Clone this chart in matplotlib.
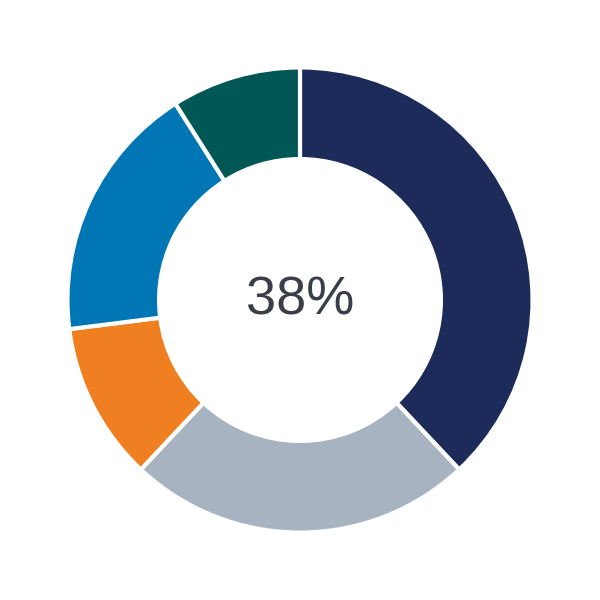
import matplotlib.pyplot as plt

# share of each slice, clockwise from 12 o'clock
labels = ["Navy", "Gray", "Orange", "Blue", "Teal"]
values = [38, 24, 11, 18, 9]
colors = ["#1c2b5a", "#a8b3c2", "#f07f22", "#0176b5", "#005753"]
center_label = "38%"

fig = plt.figure(figsize=(6, 6), dpi=100)
ax = fig.add_axes([0, 0, 1, 1])

ax.pie(values, colors=colors, startangle=90, counterclock=False, radius=1,
       wedgeprops=dict(width=0.394, edgecolor="white", linewidth=3))

ax.text(0, 0.0, center_label, ha="center", va="center", fontsize=39,
        color="#3a3f47", family=["Liberation Sans", "DejaVu Sans"])

ax.set_xlim(-1.29, 1.29)
ax.set_ylim(-1.29, 1.29)
ax.set_aspect("equal")
ax.axis("off")

fig.savefig("out.png", dpi=100, facecolor="white")
